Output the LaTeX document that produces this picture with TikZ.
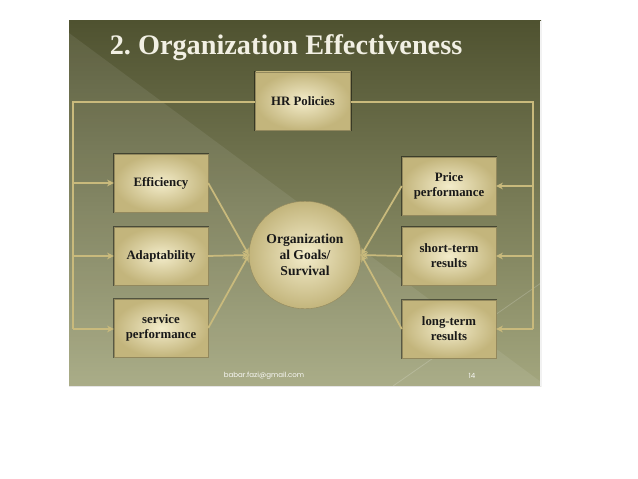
\documentclass[tikz,border=0pt]{standalone}
\usepackage{fontspec}
\setmainfont{Liberation Serif}
\newfontfamily\footfont{Poppins}
\usetikzlibrary{arrows.meta,shapes.geometric,shadows}
\definecolor{bgtop}{HTML}{4F5230}
\definecolor{bgbot}{HTML}{A3A67E}
\definecolor{linec}{HTML}{C9BA7C}
\definecolor{boxin}{HTML}{F3ECCA}
\definecolor{boxout}{HTML}{C3B57C}
\definecolor{titlec}{HTML}{F2F0E4}
\tikzset{
  boxnode/.style={rectangle, minimum width=70.5pt, minimum height=43.5pt,
    inner color=boxin, outer color=boxout, draw=boxout!75!black, line width=0.3pt,
    font=\bfseries\fontsize{9.6}{11.2}\selectfont, align=center, text=black!90,
    general shadow={shadow scale=1.03, fill=black, opacity=0.45}},
  goalnode/.style={circle, minimum size=84pt, inner sep=0pt,
    inner color=boxin, outer color=boxout, draw=boxout!75!black, line width=0.3pt},
  goaltxt/.style={font=\bfseries\fontsize{10.2}{12}\selectfont, align=center, text=black!90},
  conn/.style={draw=linec, line width=1.3pt},
  arr/.style={conn, -{Stealth[length=5pt,width=5pt]}},
  foot/.style={text=white!92!bgbot, font=\footfont\fontsize{5.3}{6.5}\selectfont},
}
\begin{document}
\frenchspacing
\begin{tikzpicture}[x=0.75pt,y=-0.75pt]
\useasboundingbox (0,0) rectangle (638,478);
\fill[white] (0,0) rectangle (638,478);
% slide background
\shade[top color=bgtop, bottom color=bgbot] (69,21) rectangle (541,386);
\fill[white, opacity=0.08] (69,33) -- (541,382) -- (541,386) -- (69,386) -- cycle;
\draw[white, opacity=0.18, line width=0.6pt] (393,386) -- (541,283);
\draw[white!80!gray, line width=1.2pt] (69,386.5) -- (541,386.5);
\draw[white!90!gray, line width=0.8pt] (541,21) -- (541,386);
% title
\node[text=titlec, font=\bfseries\fontsize{21.2}{25}\selectfont] (title) at (286,47.5) {2. Organization Effectiveness};
% nodes
\node[boxnode, minimum width=71.25pt] (hr) at (303,101) {HR Policies};
\node[boxnode] (eff) at (161,183) {Efficiency};
\node[boxnode] (ada) at (161,256) {Adaptability};
\node[boxnode] (ser) at (161,328) {service\\performance};
\node[boxnode] (pri) at (449,186) {Price\\performance};
\node[boxnode] (sho) at (449,256) {short-term\\results};
\node[boxnode] (lon) at (449,329) {long-term\\results};
\node[goalnode, yscale=0.96] (goal) at (305,255) {};
\node[goaltxt] (goaltext) at (goal) {Organization\\al Goals/\\Survival};
% bus coordinates
\coordinate (lt) at (73,102);
\coordinate (lb) at (73,329);
\coordinate (rt) at (533,102);
\coordinate (rb) at (533,329);
% buses
\draw[conn] (hr.west |- lt) -- (lt) -- (lb);
\draw[conn] (hr.east |- rt) -- (rt) -- (rb);
\draw[arr] (lt |- eff.west) -- (eff.west);
\draw[arr] (lt |- ada.west) -- (ada.west);
\draw[arr] (lb) -- (ser.west |- lb);
\draw[arr] (rt |- pri.east) -- (pri.east);
\draw[arr] (rt |- sho.east) -- (sho.east);
\draw[arr] (rb) -- (lon.east |- rb);
% to goal
\draw[arr] (eff.east) -- (goal.west);
\draw[arr] (ada.east) -- (goal.west);
\draw[arr] (ser.east) -- (goal.west);
\draw[arr] (pri.west) -- (goal.east);
\draw[arr] (sho.west) -- (goal.east);
\draw[arr] (lon.west) -- (goal.east);
% footer
\node[foot] (mail) at (264,376) {babar.fazi@gmail.com};
\node[foot] (pg) at (472,376) {14};
\end{tikzpicture}
\end{document}
